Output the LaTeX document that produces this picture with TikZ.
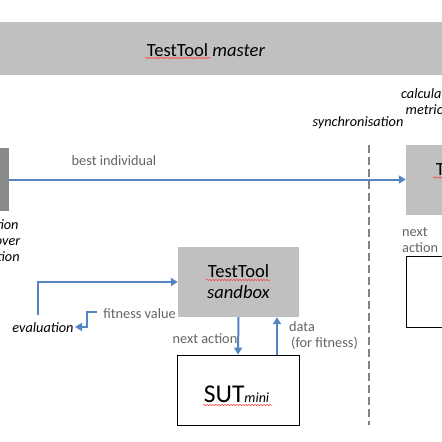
\documentclass[tikz,border=0pt]{standalone}
\usepackage{fontspec}
\setmainfont{Carlito}
\usetikzlibrary{arrows.meta,calc,decorations.pathmorphing}
\definecolor{boxgray}{RGB}{192,192,192}
\definecolor{darkbox}{RGB}{138,138,138}
\definecolor{flowblue}{RGB}{84,132,194}
\definecolor{labelgray}{RGB}{100,100,100}
\definecolor{dashgray}{RGB}{130,130,130}
\begin{document}
\begin{tikzpicture}[x=1pt,y=-1pt,
  graybox/.style={fill=boxgray,draw=none,inner sep=0pt,minimum width=121pt,minimum height=70pt,align=center,font=\fontsize{18.6}{22}\selectfont},
  whitebox/.style={fill=white,draw=black,line width=0.8pt,inner sep=0pt,minimum width=122pt,minimum height=70pt},
  lbl/.style={inner sep=0pt,text=labelgray,font=\fontsize{14.3}{16}\selectfont},
  itlbl/.style={inner sep=0pt,text=black,font=\fontsize{14.3}{16}\selectfont\itshape},
  flow/.style={draw=flowblue,line width=2pt,-{Triangle[length=7pt,width=8pt]}},
  squig/.style={draw=red!75,line width=0.5pt,decorate,decoration={snake,segment length=3pt,amplitude=0.7pt}}
]
\useasboundingbox (0,0) rectangle (442,442);
\clip (0,0) rectangle (442,442);
\fill[white] (0,0) rectangle (442,442);

% banner
\node[fill=boxgray,inner sep=0pt,minimum width=446pt,minimum height=53pt] (banner) at (221,48.5) {};
\node[inner sep=0pt,font=\fontsize{18.6}{22}\selectfont] (mastertxt) at (206,50) {TestTool \textit{master}};

% left dark box and operators
\node[fill=darkbox,inner sep=0pt,minimum width=29pt,minimum height=63pt] (ga) at (-5.5,179.5) {};
\node[itlbl,align=center] (ops) at (-7,241) {selection\\crossover\\mutation};

% right side boxes
\node[graybox] (slave) at (466.5,179.5) {};
\node[inner sep=0pt,font=\fontsize{18.6}{22}\selectfont] (slavetxt) at (466.5,169) {TestTool};
\node[whitebox,minimum width=121pt,minimum height=71pt] (rwhite) at (466.5,291.5) {};

% sandbox and SUT
\node[graybox] (sandbox) at (238.5,282) {TestTool\\[-1pt]\textit{sandbox}};
\node[whitebox] (sut) at (238,390) {};
\node[inner sep=0pt,anchor=base] (suttxt) at (236.5,402) {{\fontsize{25.6}{28}\selectfont SUT}{\fontsize{14}{16}\selectfont\itshape mini}};

% dashed synchronisation line
\coordinate (dtop) at (369,145);
\coordinate (dbot) at (369,425);
\draw[dashgray,line width=1.8pt,dash pattern=on 8pt off 4pt] (dtop) -- (dbot);

% labels
\node[lbl] (bestlbl) at (114,161) {best individual};
\node[itlbl] (sync) at (358,123) {synchronisation};
\node[itlbl,align=center] (calcm) at (427,102) {calculate\\metrics};
\node[lbl,anchor=west,align=left] (nextR) at (402,240) {next\\action};
\node[lbl] (nextL) at (205,339) {next action};
\node[lbl,anchor=west,align=left] (datalbl) at (289,336) {data\\\hspace{2pt}(for fitness)};
\node[itlbl] (eval) at (43,328) {evaluation};
\node[lbl] (fit) at (139.5,314) {fitness value};

% connectors
\draw[flow] (ga.east) -- (slave.west);
\draw[flow] (sandbox.south) -- (sut.north);
\coordinate (dataS) at ($(sut.north)+(39,0)$);
\coordinate (dataE) at ($(sandbox.south)+(38.5,0)$);
\draw[flow] (dataS) -- (dataE);
\coordinate (evstart) at (38,315);
\draw[flow] (evstart) |- (sandbox.west);
\coordinate (fitstart) at (97,312);
\coordinate (fitend) at (75,327);
\draw[flow] (fitstart) -- (87,312) -- (87,327) -- (fitend);

% spell-check squiggles
\draw[squig] (145,58) -- (210,58);
\draw[squig] (206,280) -- (270,280);
\draw[squig] (203,405) -- (272,405);
\draw[squig] (433,177.5) -- (445,177.5);
\end{tikzpicture}
\end{document}
